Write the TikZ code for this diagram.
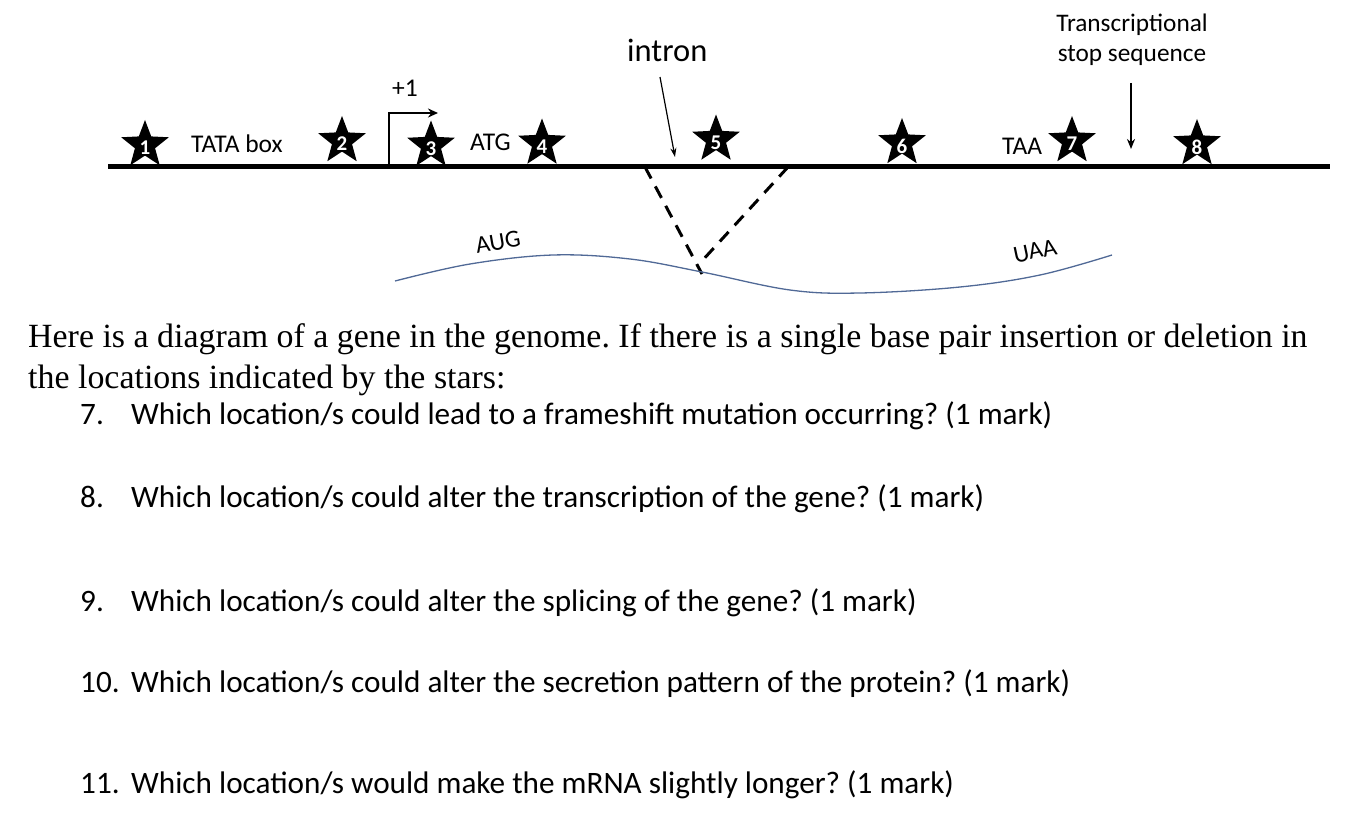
\documentclass[tikz,border=0pt]{standalone}
\usepackage{fontspec}
\setmainfont{Carlito}
\newfontfamily\serifa{Liberation Serif}
\usetikzlibrary{shapes.geometric,arrows.meta}
\newcommand\starmk[4]{%
  \fill[shift={(#2,#3)}] (-90:25) -- (-54:10.6) -- (-18:25) -- (18:10.6) -- (54:25) -- (90:10.6) -- (126:25) -- (162:10.6) -- (198:25) -- (234:10.6) -- cycle;
  \node[starnum] (#1) at (#2,#3+3) {#4};}
\begin{document}
\frenchspacing
\begin{tikzpicture}[x=1pt,y=-1pt,
  starnum/.style={inner sep=0pt, text=white, font=\bfseries\fontsize{21}{21}\selectfont},
  lbl/.style={inner sep=0pt, anchor=base west, font=\fontsize{25.5}{25.5}\selectfont},
  body/.style={inner sep=0pt, anchor=base west, font=\serifa\fontsize{33.9}{33.9}\selectfont},
  qtext/.style={inner sep=0pt, anchor=base west, font=\fontsize{31.2}{31.2}\selectfont},
  dna/.style={line width=5pt},
  mrna/.style={line width=1.3pt, draw={rgb,255:red,80;green,105;blue,150}},
  splice/.style={line width=3pt, dash pattern=on 13pt off 9pt},
  thinarrow/.style={line width=1.2pt, -{Stealth[length=9pt,width=6pt]}},
]
\useasboundingbox (0,0) rectangle (1354,824);

% DNA line
\coordinate (L) at (108,166);
\coordinate (R) at (1330,166);
\draw[dna] (L) -- (R);

% promoter arrow
\coordinate (p0) at (389,166);
\coordinate (p1) at (389,113);
\coordinate (p2) at (438,113);
\draw[line width=2.5pt, -{Stealth[length=10pt,width=9pt]}] (p0) -- (p1) -- (p2);
\node[lbl] (plus) at (392,97) {+1};

% stars
\starmk{s1}{145}{145}{1}
\starmk{s2}{342}{141}{2}
\starmk{s3}{431}{145.5}{3}
\starmk{s4}{542}{143.5}{4}
\starmk{s5}{716}{139.5}{5}
\starmk{s6}{902}{143}{6}
\starmk{s7}{1072}{141}{7}
\starmk{s8}{1197}{144}{8}

% labels on DNA
\node[lbl] (tata) at (191,153) {TATA box};
\node[lbl] (atg) at (470,150) {ATG};
\node[lbl] (taa) at (1002,154) {TAA};

% intron
\node[inner sep=0pt, anchor=base west, font=\fontsize{32.5}{32.5}\selectfont] (intron) at (627,62) {intron};
\coordinate (ia) at (660,77);
\coordinate (ib) at (675,157);
\draw[thinarrow] (ia) -- (ib);

% transcriptional stop
\node[inner sep=0pt, anchor=base, font=\fontsize{25.3}{25.3}\selectfont] (ts1) at (1132,32) {Transcriptional};
\node[inner sep=0pt, anchor=base, font=\fontsize{25.3}{25.3}\selectfont] (ts2) at (1132,62) {stop sequence};
\coordinate (sa) at (1131,83);
\coordinate (sb) at (1131,149);
\draw[line width=2pt, -{Stealth[length=10pt,width=8pt]}] (sa) -- (sb);

% splicing dashes
\coordinate (d1) at (645,167);
\coordinate (d2) at (702,274);
\coordinate (d3) at (788,167);
\coordinate (d4) at (701,262);
\draw[splice] (d1) -- (d2);
\draw[splice] (d3) -- (d4);

% mRNA
\draw[mrna] plot[smooth, tension=0.6] coordinates {(395,281) (470,264) (553,255) (630,259) (702,272) (790,290) (860,293) (960,287) (1040,275) (1112,255)};
\node[inner sep=0pt, rotate=10, font=\fontsize{24.5}{24.5}\selectfont] (aug) at (498,242) {AUG};
\node[inner sep=0pt, rotate=12, font=\fontsize{24.5}{24.5}\selectfont] (uaa) at (1035,251) {UAA};

% body text
\node[body] (b1) at (28,347) {Here is a diagram of a gene in the genome. If there is a single base pair insertion or deletion in};
\node[body] (b2) at (28,388) {the locations indicated by the stars:};

% questions
\node[qtext] (n7) at (80,424) {7.};
\node[qtext] (q7) at (131,424) {Which location/s could lead to a frameshift mutation occurring? (1 mark)};
\node[qtext] (n8) at (80,507) {8.};
\node[qtext] (q8) at (131,507) {Which location/s could alter the transcription of the gene? (1 mark)};
\node[qtext] (n9) at (80,611) {9.};
\node[qtext] (q9) at (131,611) {Which location/s could alter the splicing of the gene? (1 mark)};
\node[qtext] (n10) at (80,692) {10.};
\node[qtext] (q10) at (131,692) {Which location/s could alter the secretion pattern of the protein? (1 mark)};
\node[qtext] (n11) at (80,793) {11.};
\node[qtext] (q11) at (131,793) {Which location/s would make the mRNA slightly longer? (1 mark)};
\end{tikzpicture}
\end{document}
